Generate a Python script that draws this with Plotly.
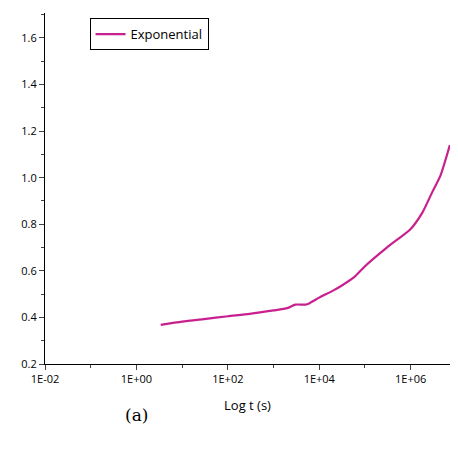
import plotly.graph_objects as go

t = [3.4, 10, 30, 100, 300, 1000, 2000, 3000, 5000, 6000, 10000, 20000, 30000, 60000, 100000, 300000, 1000000, 1800000, 3000000, 4500000, 7200000]
y = [0.368, 0.382, 0.393, 0.405, 0.415, 0.43, 0.44, 0.455, 0.455, 0.46, 0.485, 0.515, 0.535, 0.575, 0.62, 0.7, 0.78, 0.85, 0.94, 1.01, 1.14]

fig = go.Figure(go.Scatter(x=t, y=y, mode="lines", name="Exponential",
                           line=dict(color="#c8208e", width=2.2, shape="spline", smoothing=0.6)))
fig.update_layout(
    autosize=True, plot_bgcolor="white", paper_bgcolor="white",
    margin=dict(l=37, r=0, t=5, b=86),
    font=dict(family="Open Sans", size=12, color="black"),
    showlegend=True,
    legend=dict(x=0.11, y=0.985, xanchor="left", yanchor="top",
                bordercolor="black", borderwidth=1, bgcolor="white",
                font=dict(size=13)),
    annotations=[dict(text="(a)", x=(118-37)/421, y=-(438-372)/367, xref="paper", yref="paper",
                      showarrow=False, font=dict(family="DejaVu Serif", size=17))],
)
fig.update_xaxes(type="log", range=[-2, 6.86], showgrid=False, automargin=False,
                 showline=True, linecolor="black", linewidth=1,
                 ticks="outside", ticklen=5,
                 tickvals=[0.01, 1, 100, 1e4, 1e6],
                 ticktext=["1E-02", "1E+00", "1E+02", "1E+04", "1E+06"],
                 minor=dict(tickvals=[0.1, 10, 1000, 1e5], ticks="outside", ticklen=3),
                 title=dict(text="Log t (s)", font=dict(size=13)), tickfont=dict(size=11))
fig.update_yaxes(range=[0.2, 1.707], showgrid=False, zeroline=False, automargin=False,
                 showline=True, linecolor="black", linewidth=1,
                 ticks="outside", ticklen=5, dtick=0.2, tickformat=".1f",
                 minor=dict(dtick=0.1, ticks="outside", ticklen=3), tickfont=dict(size=11))
fig.write_html("out.html", default_width="100%", default_height="100%")
